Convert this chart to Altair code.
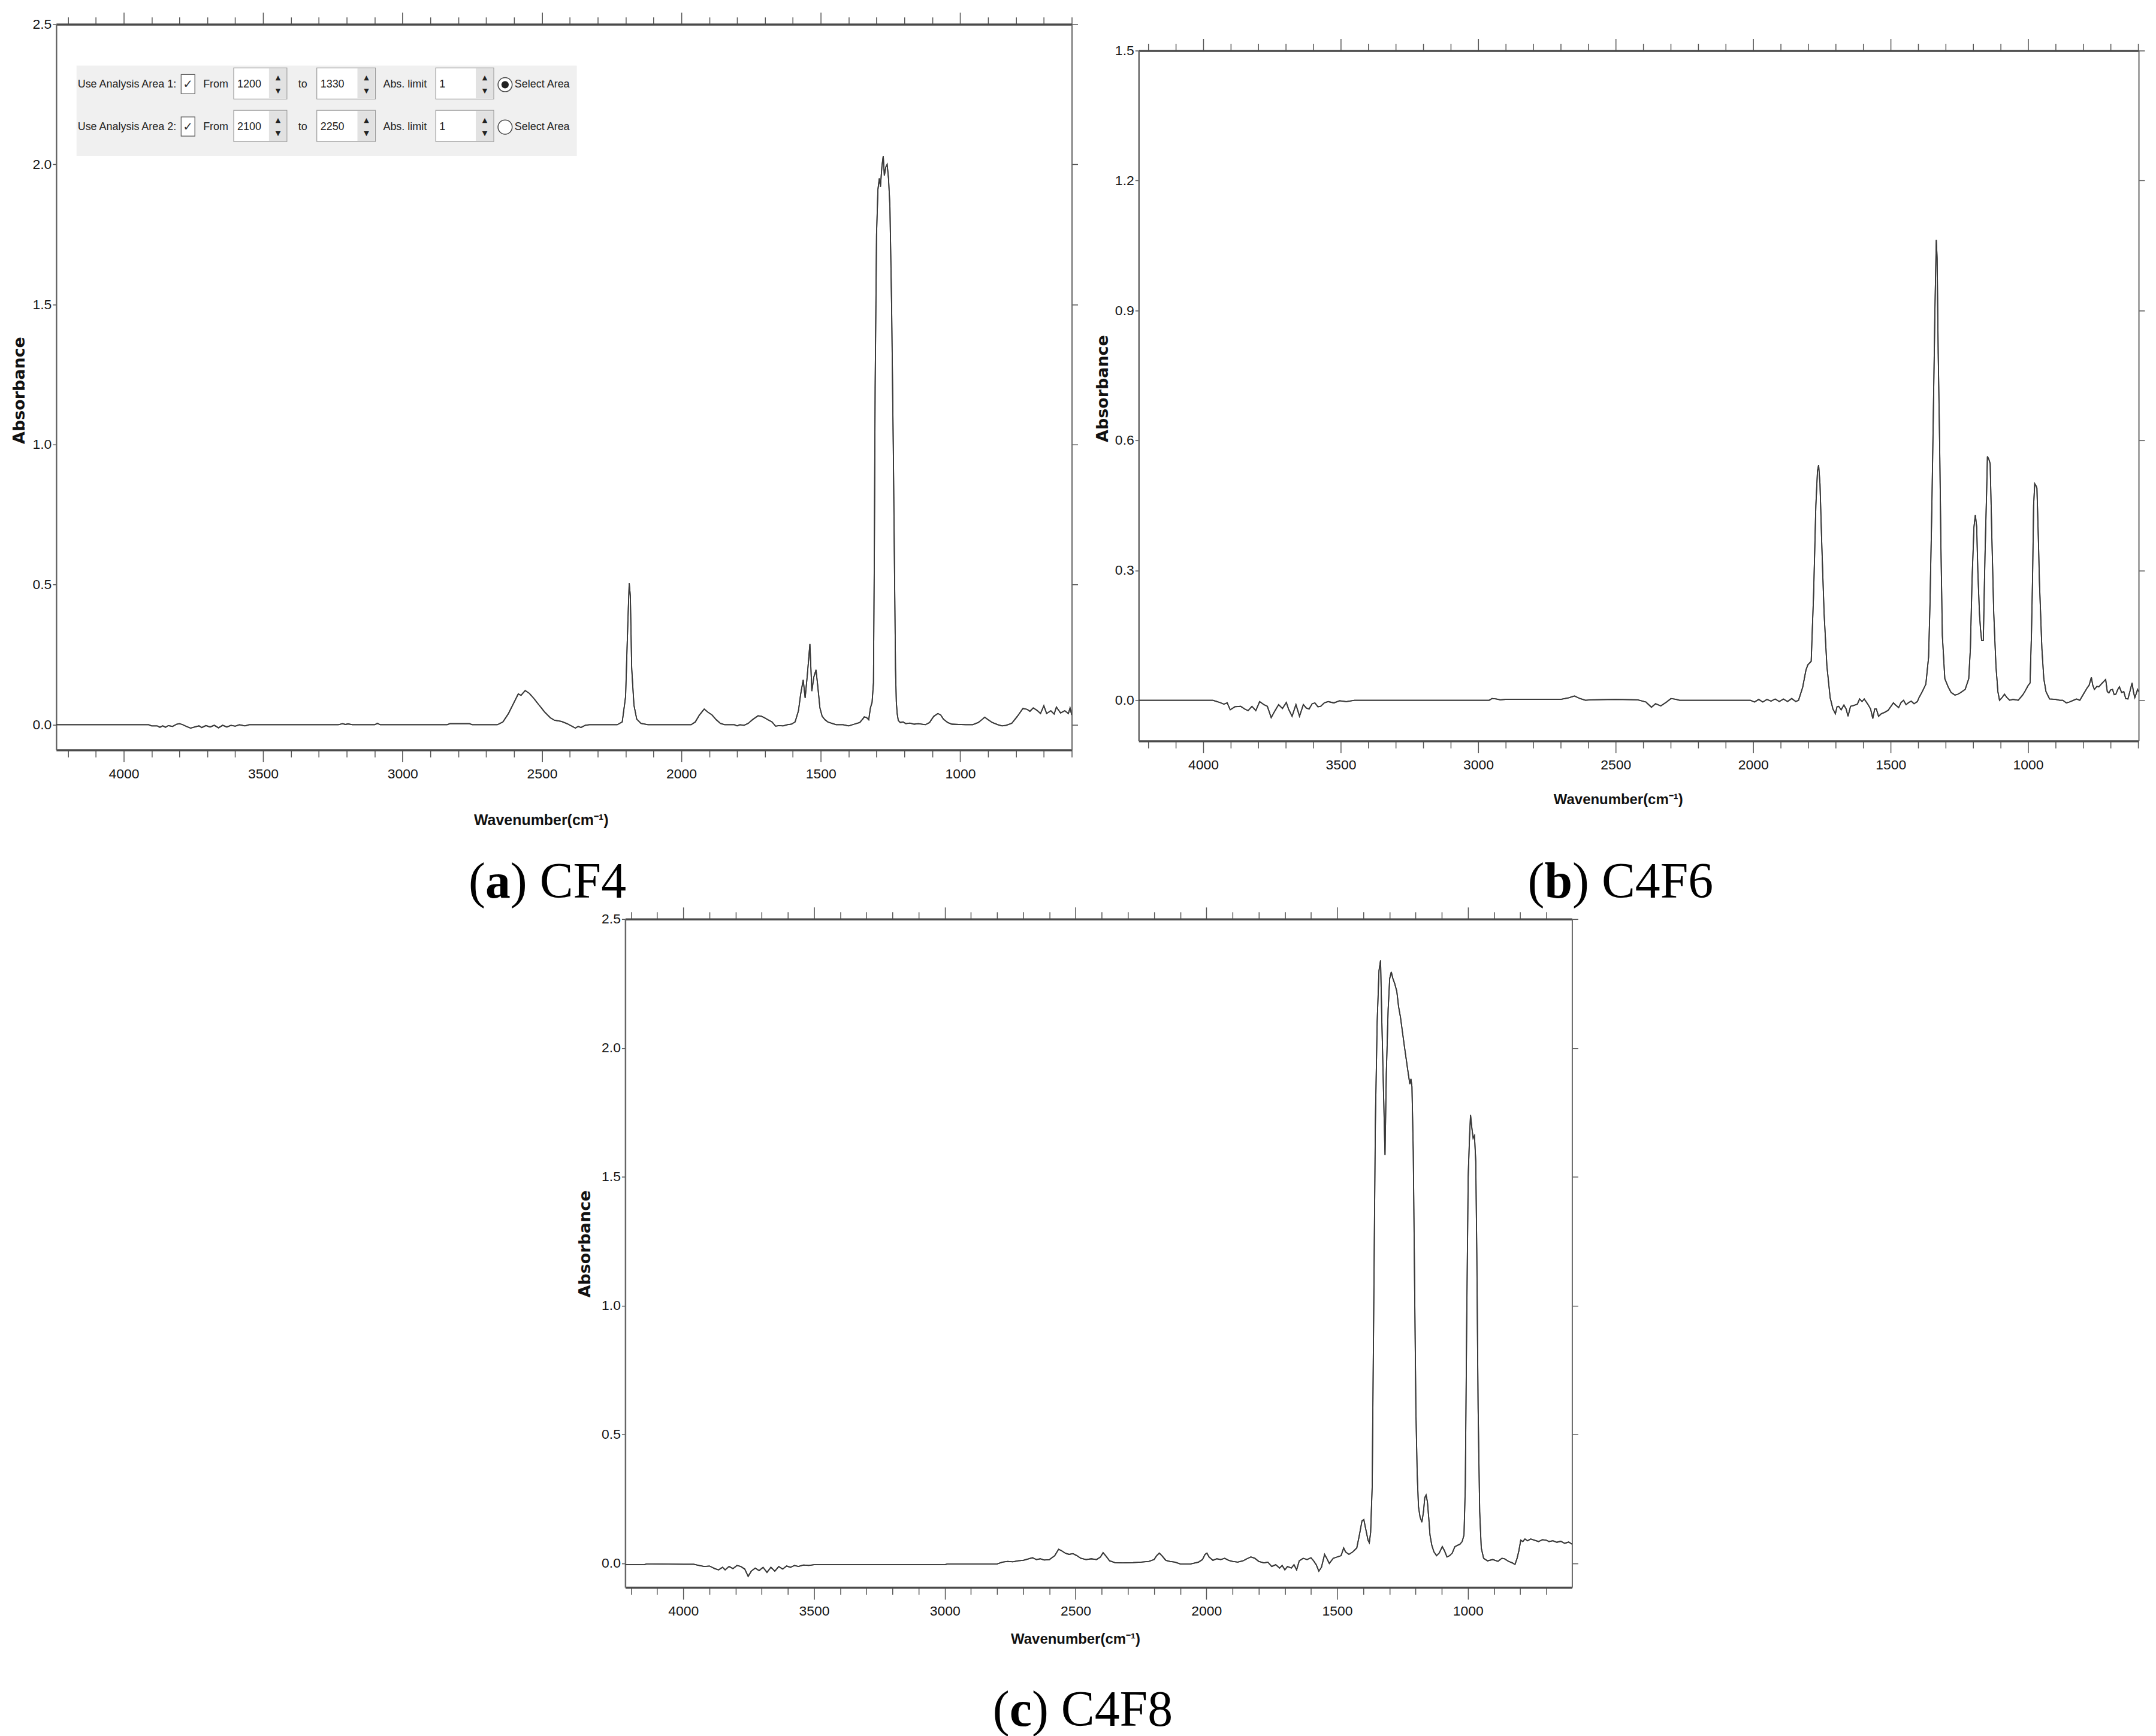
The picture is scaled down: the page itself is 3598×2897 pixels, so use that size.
import altair as alt
import pandas as pd

# ---------------- data (wavenumber, absorbance) ----------------
cf4 = [(4242,0.000),(3910,0.000),(3900,-0.004),(3880,-0.004),(3870,-0.009),(3860,-0.004),(3850,-0.009),
(3840,-0.003),(3825,-0.006),(3810,0.002),(3800,0.004),(3790,0.001),(3775,-0.006),(3760,-0.012),(3745,-0.008),
(3730,-0.004),(3720,-0.010),(3705,-0.003),(3690,-0.008),(3675,-0.002),(3660,-0.011),(3645,-0.002),(3630,-0.008),
(3615,-0.002),(3600,-0.005),(3585,0.000),(3565,-0.004),(3550,0.000),(3230,0.000),(3215,0.004),(3205,0.001),
(3195,0.003),(3180,0.000),(3100,0.000),(3090,0.005),(3080,0.000),(2840,0.000),(2830,0.004),(2760,0.004),
(2750,0.000),(2660,0.000),(2640,0.010),(2620,0.040),(2600,0.080),(2585,0.110),(2575,0.105),(2560,0.122),
(2545,0.112),(2530,0.095),(2510,0.070),(2490,0.045),(2470,0.025),(2455,0.016),(2430,0.012),(2410,0.004),
(2395,-0.004),(2380,-0.012),(2370,-0.006),(2360,-0.010),(2345,-0.002),(2330,0.000),(2230,0.000),(2212,0.010),
(2200,0.100),(2192,0.360),(2187,0.505),(2183,0.460),(2178,0.200),(2170,0.070),(2160,0.020),(2145,0.005),
(2120,0.000),(1965,0.000),(1950,0.010),(1935,0.035),(1918,0.056),(1905,0.045),(1890,0.035),(1875,0.018),
(1860,0.005),(1845,0.000),(1810,0.000),(1800,-0.004),(1790,0.000),(1775,-0.002),(1760,0.005),(1745,0.018),
(1725,0.032),(1712,0.030),(1700,0.024),(1690,0.018),(1675,0.010),(1662,-0.005),(1650,-0.003),(1635,-0.004),
(1620,0.000),(1605,0.002),(1592,0.010),(1580,0.050),(1572,0.110),(1563,0.160),(1556,0.096),(1548,0.180),
(1539,0.288),(1532,0.120),(1525,0.170),(1517,0.196),(1510,0.130),(1503,0.060),(1495,0.030),(1485,0.018),
(1475,0.010),(1460,0.005),(1445,0.000),(1420,0.000),(1400,-0.004),(1380,0.002),(1360,0.008),(1350,0.020),
(1344,0.028),(1336,0.026),(1328,0.018),(1322,0.060),(1316,0.080),(1311,0.150),(1308,0.600),(1305,1.200),
(1300,1.750),(1295,1.910),(1290,1.950),(1286,1.920),(1281,1.990),(1276,2.030),(1272,1.960),(1267,1.990),
(1262,2.000),(1257,1.950),(1252,1.850),(1246,1.500),(1240,1.000),(1236,0.600),(1232,0.200),(1229,0.080),
(1226,0.040),(1222,0.015),(1215,0.008),(1205,0.010),(1195,0.004),(1180,0.006),(1165,0.002),(1150,0.004),
(1125,0.000),(1110,0.008),(1095,0.030),(1080,0.040),(1070,0.035),(1060,0.020),(1045,0.008),(1030,0.002),
(980,0.000),(955,0.000),(935,0.008),(920,0.020),(912,0.027),(900,0.018),(885,0.008),(865,0.000),(850,-0.004),
(835,-0.002),(815,0.005),(795,0.030),(775,0.058),(760,0.055),(750,0.048),(738,0.060),(725,0.052),(712,0.040),
(700,0.068),(690,0.040),(675,0.050),(663,0.038),(655,0.063),(640,0.042),(625,0.050),(612,0.040),(606,0.060),
(600,0.035)]

c4f6 = [(4235,0.000),(3965,0.000),(3940,-0.005),(3925,-0.009),(3913,-0.006),(3902,-0.022),(3885,-0.015),
(3864,-0.014),(3850,-0.020),(3837,-0.024),(3823,-0.014),(3809,-0.024),(3795,-0.003),(3780,-0.010),(3767,-0.014),
(3753,-0.040),(3740,-0.025),(3726,-0.010),(3712,-0.019),(3698,-0.005),(3690,-0.020),(3677,-0.037),(3663,-0.010),
(3650,-0.037),(3636,-0.010),(3625,-0.018),(3615,-0.020),(3604,-0.008),(3594,-0.006),(3583,-0.015),(3573,-0.014),
(3560,-0.006),(3546,-0.003),(3525,-0.006),(3504,-0.001),(3480,-0.003),(3450,0.000),(2960,0.000),(2950,0.004),
(2935,0.003),(2920,0.001),(2900,0.002),(2700,0.002),(2670,0.006),(2650,0.010),(2630,0.004),(2610,0.000),
(2590,0.001),(2500,0.002),(2420,0.001),(2390,-0.004),(2370,-0.016),(2355,-0.008),(2336,-0.013),(2315,-0.004),
(2299,0.004),(2280,0.002),(2268,0.000),(2200,0.000),(2010,0.000),(1995,-0.004),(1980,0.002),(1965,-0.004),
(1950,0.002),(1935,-0.002),(1920,0.003),(1905,-0.003),(1890,0.003),(1875,-0.003),(1860,0.004),(1845,-0.003),
(1835,0.000),(1820,0.030),(1808,0.070),(1801,0.082),(1789,0.090),(1780,0.250),(1772,0.450),(1766,0.530),
(1762,0.543),(1757,0.500),(1750,0.350),(1742,0.200),(1732,0.080),(1720,0.006),(1710,-0.020),(1701,-0.031),
(1695,-0.015),(1689,-0.014),(1680,-0.022),(1670,-0.011),(1662,-0.020),(1655,-0.037),(1646,-0.014),(1635,-0.012),
(1621,-0.009),(1613,0.003),(1604,-0.003),(1596,0.003),(1583,-0.009),(1573,-0.020),(1565,-0.042),(1558,-0.020),
(1552,-0.020),(1544,-0.037),(1534,-0.031),(1522,-0.028),(1509,-0.023),(1500,-0.015),(1490,-0.006),(1480,-0.012),
(1471,-0.017),(1462,-0.005),(1453,0.000),(1444,-0.010),(1434,-0.005),(1425,-0.002),(1415,-0.008),(1403,-0.003),
(1397,0.006),(1385,0.020),(1372,0.037),(1362,0.100),(1357,0.220),(1350,0.450),(1345,0.650),(1339,0.900),
(1334,1.063),(1331,1.020),(1327,0.800),(1322,0.600),(1317,0.350),(1312,0.150),(1303,0.050),(1291,0.031),
(1280,0.018),(1266,0.012),(1256,0.014),(1247,0.017),(1229,0.025),(1216,0.050),(1210,0.120),(1204,0.276),
(1197,0.400),(1192,0.428),(1187,0.400),(1183,0.300),(1177,0.200),(1173,0.163),(1169,0.138),(1163,0.138),
(1157,0.330),(1151,0.480),(1148,0.563),(1142,0.555),(1138,0.546),(1132,0.380),(1125,0.200),(1117,0.079),
(1110,0.020),(1104,0.000),(1095,0.006),(1086,0.014),(1077,0.006),(1067,0.000),(1055,0.002),(1036,0.000),
(1020,0.012),(1012,0.020),(1000,0.034),(993,0.040),(988,0.150),(984,0.276),(980,0.450),(976,0.500),
(971,0.495),(968,0.490),(963,0.380),(959,0.276),(950,0.120),(943,0.050),(935,0.020),(922,0.003),(900,0.002),
(885,0.000),(874,0.000),(861,-0.006),(850,-0.004),(835,0.000),(824,0.003),(812,0.000),(799,0.014),(786,0.028),
(778,0.035),(770,0.053),(765,0.035),(759,0.025),(750,0.032),(743,0.031),(730,0.040),(718,0.048),(712,0.020),
(706,0.017),(700,0.024),(693,0.025),(687,0.013),(681,0.014),(674,0.025),(668,0.031),(660,0.018),(652,0.020),
(645,0.004),(637,0.003),(630,0.020),(622,0.040),(617,0.020),(612,0.006),(607,0.015),(602,0.025),(598,0.020)]

c4f8 = [(4222,-0.005),(4150,-0.005),(4140,-0.002),(4120,-0.002),(4000,-0.003),(3960,-0.003),(3940,-0.008),
(3920,-0.012),(3900,-0.010),(3880,-0.020),(3865,-0.025),(3850,-0.015),(3840,-0.025),(3825,-0.012),(3810,-0.020),
(3795,-0.008),(3780,-0.012),(3765,-0.022),(3752,-0.050),(3740,-0.030),(3725,-0.018),(3710,-0.028),(3695,-0.015),
(3680,-0.035),(3665,-0.015),(3650,-0.030),(3635,-0.012),(3620,-0.022),(3605,-0.010),(3590,-0.015),(3575,-0.008),
(3560,-0.012),(3540,-0.006),(3520,-0.008),(3500,-0.005),(3400,-0.005),(3000,-0.005),(2990,-0.002),(2800,-0.002),
(2780,0.005),(2760,0.008),(2740,0.006),(2720,0.010),(2700,0.012),(2680,0.018),(2665,0.022),(2650,0.015),
(2635,0.018),(2620,0.013),(2600,0.015),(2580,0.030),(2565,0.055),(2555,0.050),(2540,0.040),(2525,0.035),
(2510,0.038),(2495,0.030),(2480,0.020),(2460,0.015),(2440,0.018),(2420,0.015),(2405,0.025),(2395,0.042),
(2385,0.030),(2370,0.010),(2350,0.003),(2320,0.002),(2280,0.003),(2250,0.005),(2220,0.008),(2200,0.015),
(2190,0.030),(2180,0.040),(2170,0.030),(2155,0.012),(2140,0.008),(2120,0.005),(2100,-0.002),(2060,-0.002),
(2030,0.005),(2015,0.015),(2005,0.035),(1998,0.040),(1990,0.025),(1975,0.012),(1960,0.018),(1945,0.015),
(1930,0.020),(1915,0.012),(1900,0.008),(1880,0.005),(1860,0.010),(1845,0.018),(1830,0.025),(1815,0.020),
(1800,0.008),(1780,0.002),(1765,0.005),(1750,-0.012),(1735,-0.005),(1720,-0.018),(1710,-0.008),(1700,-0.025),
(1690,-0.012),(1675,-0.018),(1665,-0.005),(1655,-0.025),(1645,0.010),(1630,0.020),(1615,0.015),(1600,0.022),
(1590,0.010),(1580,-0.005),(1570,-0.030),(1560,-0.015),(1548,0.035),(1540,0.020),(1530,0.000),(1515,0.020),
(1500,0.025),(1485,0.030),(1475,0.060),(1468,0.045),(1455,0.035),(1440,0.045),(1425,0.060),(1415,0.110),
(1405,0.165),(1398,0.170),(1390,0.130),(1382,0.090),(1377,0.080),(1372,0.120),(1366,0.300),(1360,1.000),
(1354,1.700),(1347,2.100),(1340,2.300),(1334,2.340),(1329,2.100),(1322,1.800),(1317,1.585),(1312,1.900),
(1305,2.150),(1299,2.270),(1293,2.295),(1287,2.270),(1280,2.250),(1272,2.220),(1265,2.160),(1258,2.120),
(1250,2.060),(1242,2.000),(1235,1.950),(1228,1.900),(1222,1.860),(1218,1.880),(1214,1.850),(1209,1.600),
(1204,1.100),(1199,0.600),(1194,0.350),(1189,0.220),(1183,0.180),(1176,0.160),(1170,0.200),(1165,0.255),
(1160,0.265),(1155,0.240),(1150,0.180),(1145,0.110),(1138,0.070),(1130,0.045),(1120,0.030),(1110,0.040),
(1098,0.065),(1090,0.050),(1080,0.025),(1070,0.030),(1060,0.040),(1050,0.065),(1040,0.070),(1030,0.075),
(1022,0.085),(1015,0.110),(1010,0.300),(1005,0.900),(999,1.500),(994,1.650),(990,1.740),(985,1.690),
(980,1.650),(975,1.660),(970,1.560),(966,1.200),(961,0.600),(955,0.200),(949,0.060),(940,0.020),(925,0.010),
(905,0.015),(885,0.008),(870,0.020),(860,0.018),(845,0.008),(830,0.002),(820,-0.004),(812,0.020),(805,0.050),
(798,0.090),(790,0.085),(782,0.095),(772,0.088),(760,0.095),(745,0.090),(730,0.085),(715,0.092),(700,0.090),
(690,0.085),(675,0.088),(660,0.082),(645,0.086),(630,0.078),(615,0.083),(602,0.075)]

x_ticks = list(range(4200, 599, -100))
cf4_yticks = [0.0, 0.5, 1.0, 1.5, 2.0, 2.5]
c4f6_yticks = [0.0, 0.3, 0.6, 0.9, 1.2, 1.5]
c4f8_yticks = [0.0, 0.5, 1.0, 1.5, 2.0, 2.5]

x_title = "Wavenumber(cm⁻¹)"
y_title = "Absorbance"

ui_rows = [
    {"n": "1", "from": "1200", "to": "1330", "lim": "1", "sel": True},
    {"n": "2", "from": "2100", "to": "2250", "lim": "1", "sel": False},
]

# ---------------- styling helpers ----------------
SANS = "Liberation Sans, Arial, sans-serif"
SERIF = "Liberation Serif, Times New Roman, serif"
ONE = pd.DataFrame({"k": [0]})


def vtext(x, y, t, size=18, font=SANS, weight="normal", align="left",
          baseline="middle", color="#222", limit=None):
    kw = dict(align=align, baseline=baseline, font=font, fontSize=size,
              fontWeight=weight, color=color)
    if limit is not None:
        kw["limit"] = limit
        kw["ellipsis"] = "\u200b"
    return alt.Chart(ONE).mark_text(**kw).encode(
        x=alt.value(x), y=alt.value(y), text=alt.value(t))


def vrect(x1, x2, y1, y2, fill, stroke=None, sw=1.2):
    kw = dict(fill=fill)
    if stroke:
        kw.update(stroke=stroke, strokeWidth=sw)
    return alt.Chart(ONE).mark_rect(**kw).encode(
        x=alt.value(x1), x2=alt.value(x2), y=alt.value(y1), y2=alt.value(y2))


def vdot(x, y, size, fill, stroke=None):
    kw = dict(shape="circle", filled=True, fill=fill, size=size, opacity=1)
    if stroke:
        kw.update(stroke=stroke, strokeWidth=1.5)
    return alt.Chart(ONE).mark_point(**kw).encode(x=alt.value(x), y=alt.value(y))


def spacer(w, h):
    return alt.Chart(ONE).mark_point(opacity=0).encode(
        x=alt.value(0), y=alt.value(0)).properties(width=w, height=h)


TICK_LEN = {"condition": {"test": "datum.value % 500 === 0", "value": 20}, "value": 12}


def panel(points, xdom, ydom, yticks, w, h, ytitle_xy, xtitle_xy,
          letter, letter_w, rest, cap_xy, extra=(), xtitle_size=24):
    df = pd.DataFrame(points, columns=["wn", "ab"])
    xs = alt.Scale(domain=xdom, reverse=True, nice=False, zero=False)
    ys = alt.Scale(domain=ydom, nice=False, zero=False)
    ax_bottom = alt.Axis(
        orient="bottom", values=x_ticks, format="d",
        labelExpr="datum.value % 500 === 0 ? datum.label : ''",
        tickSize=TICK_LEN, tickWidth=1.5, tickColor="#555",
        domainWidth=3.5, domainColor="#4a4a4a",
        labelFont=SANS, labelFontSize=23, labelColor="#151515", labelPadding=9,
        labelOverlap=False, labelFlush=False, grid=False,
        title=x_title, titleFont=SANS, titleFontSize=xtitle_size, titleFontWeight="bold",
        titleColor="#111", titleX=xtitle_xy[0], titleY=xtitle_xy[1],
        titleAlign="center", titleBaseline="middle", titleAngle=0)
    ax_top = alt.Axis(
        orient="top", values=x_ticks, labels=False, tickSize=TICK_LEN,
        tickWidth=1.5, tickColor="#555", domainWidth=3.5, domainColor="#4a4a4a",
        grid=False)
    ax_left = alt.Axis(
        orient="left", values=yticks, format=".1f", tickSize=6, tickWidth=1.5,
        tickColor="#555", domainWidth=2.5, domainColor="#666",
        labelFont=SANS, labelFontSize=23, labelColor="#151515", labelPadding=2,
        grid=False, title=y_title, titleFont="DejaVu Sans", titleFontSize=27,
        titleFontWeight="bold", titleColor="#111", titleX=ytitle_xy[0],
        titleY=ytitle_xy[1], titleAngle=270, titleAlign="center",
        titleBaseline="middle")
    ax_right = alt.Axis(
        orient="right", values=yticks, labels=False, tickSize=10, tickWidth=1.5,
        tickColor="#555", domainWidth=2, domainColor="#666", grid=False)

    base = alt.Chart(df).mark_line(color="#3a3a3a", strokeWidth=1.8, clip=True)
    l1 = base.encode(x=alt.X("wn:Q", scale=xs, axis=ax_bottom),
                     y=alt.Y("ab:Q", scale=ys, axis=ax_left))
    l2 = base.encode(x=alt.X("wn:Q", scale=xs, axis=ax_top, title=None),
                     y=alt.Y("ab:Q", scale=ys, axis=ax_right, title=None))

    fs = 84
    x0, yb = cap_xy
    c1 = vtext(x0, yb, "(", size=fs, font=SERIF, baseline="alphabetic", color="#000")
    c2 = vtext(x0 + 0.333 * fs, yb, letter, size=fs, font=SERIF, weight="bold",
               baseline="alphabetic", color="#000")
    c3 = vtext(x0 + (0.333 + letter_w) * fs, yb, ") " + rest, size=fs, font=SERIF,
               baseline="alphabetic", color="#000")
    return alt.layer(l1, l2, *extra, c1, c2, c3).properties(
        width=w, height=h).resolve_axis(x="independent", y="independent")


# ---------------- the analysis-area overlay in panel (a) ----------------
ui = [vrect(34, 871, 69, 220, "#f0f0f0")]
for i, r in enumerate(ui_rows):
    dy = 71 * i
    cy = 101 + dy
    ui.append(vtext(36, cy, f"Use Analysis Area {r['n']}:"))
    ui.append(vrect(209, 232, 84 + dy, 116 + dy, "white", "#555"))
    ui.append(vtext(220.5, cy, "✓", size=20, font="DejaVu Sans", align="center", color="#333"))
    ui.append(vtext(246, cy, "From"))
    ui.append(vtext(405, cy, "to"))
    ui.append(vtext(547, cy, "Abs. limit"))
    for bx1, bx2, val in [(297, 386, r["from"]), (436, 534, r["to"]), (635, 732, r["lim"])]:
        ui.append(vrect(bx1, bx2, 73 + dy, 125 + dy, "white", "#9a9a9a"))
        ui.append(vrect(bx2 - 30, bx2 - 1, 74 + dy, 124 + dy, "#e2e2e2"))
        ui.append(vtext(bx2 - 15, cy - 11, "▲", size=11, font="DejaVu Sans", align="center"))
        ui.append(vtext(bx2 - 15, cy + 11, "▼", size=11, font="DejaVu Sans", align="center"))
        ui.append(vtext(bx1 + 6, cy, val))
    ui.append(vdot(751, cy, 560, "white", "#444"))
    if r["sel"]:
        ui.append(vdot(751, cy, 150, "#222"))
    ui.append(vtext(767, cy, f"Select Area {r['n']}", limit=104))

pa = panel(cf4, [600, 4242], [-0.09, 2.5], cf4_yticks, 1699, 1214,
           (-61, 612), (811, 117), "a", 0.5, "CF4", (690, 1461), extra=ui, xtitle_size=25)
pb = panel(c4f6, [598, 4235], [-0.094, 1.5], c4f6_yticks, 1673, 1155,
           (-60, 565), (802, 98), "b", 0.556, "C4F6", (651, 1417))
pc = panel(c4f8, [602, 4222], [-0.093, 2.5], c4f8_yticks, 1584, 1118,
           (-67, 543), (753, 87), "c", 0.444, "C4F8", (615, 1350))

col_b = alt.vconcat(spacer(1, 44), pb, spacing=0, bounds="flush")
row_c = alt.hconcat(spacer(952, 1), pc, spacing=0, bounds="flush")
chart = alt.concat(
    pa, col_b, row_c, columns=2,
    spacing={"row": 283, "column": 112}, bounds="flush",
).properties(padding={"left": 11, "top": 8, "right": 10, "bottom": 5})
chart = chart.configure(background="white").configure_view(stroke=None)

chart.save("out.html", embed_options={"renderer": "svg", "actions": False})
